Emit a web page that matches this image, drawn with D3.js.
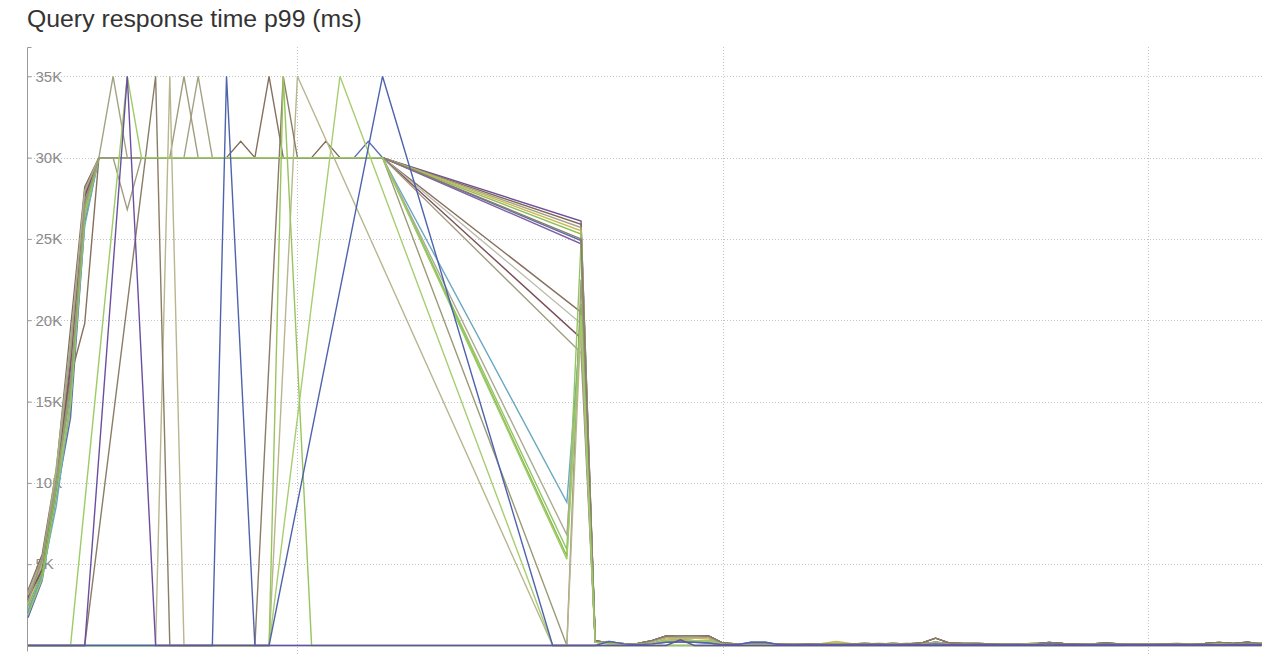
<!DOCTYPE html>
<html>
<head>
<meta charset="utf-8">
<script src="https://cdn.jsdelivr.net/npm/d3@7"></script>
<style>
  body { margin: 0; background: #fff; }
  svg { font-family: "Helvetica Neue", "Liberation Sans", Arial, sans-serif; }
  .grid line { stroke: #c4c4c4; stroke-dasharray: 1,2; shape-rendering: crispEdges; }
  .axis .domain, .axis .tick line { stroke: #9a9a9a; }
  .axis text { fill: #8a8a8a; font-size: 15px; }
  .series { fill: none; stroke-width: 1.4; }
</style>
</head>
<body>
<div id="chart"></div>
<script>
  // p99 per host, seconds, one value per sample step (null = no sample)
  var _ = null;

  var yTicks = [5000, 10000, 15000, 20000, 25000, 30000, 35000];
  var xGridSteps = [19, 49, 79];

  var host01 = [2.8,4.6,10.2,17,27.8, 30,30,30,30,30, 30,30,30,30,30, 30,30,30,30,30, 30,30,30,30,30, 30, _,_,_,_,_, _,_,_,_,_, _,_,_, 26.1,.3,
    .15,.1,.12,.3,.58,.6,.6,.58,.15,.1, .08,.1,.1,.08,.1,.08,.1,.1,.12,.1, .12,.1,.15,.45,.15,.12,.12,.1,.1,.08, .1,.18,.12,.1,.1,.15,.1,.08,.1,.1, .1,.1,.12,.18,.12,.2,.1];
  var host02 = [3.4,5.6,10.8,19.5,28.2, 30,30,30,30,30, 30,30,30,30,30, 31,30,30,30,30, 30,31,30,30,30, 30, _,_,_,_,_, _,_,_,_,_, _,_,_, 25.9,.3,
    .15,.1,.12,.3,.58,.6,.6,.58,.15,.1, .08,.1,.1,.08,.1,.08,.1,.1,.12,.1, .12,.1,.15,.45,.15,.12,.12,.1,.1,.08, .1,.18,.12,.1,.1,.15,.1,.08,.1,.1, .1,.1,.12,.18,.12,.2,.1];
  var host03 = [2.2,4.2,9.8,15.5,26.5, 30,35,30,30,30, 30,30,35,30,30, 30,30,30,30,30, 30,30,30,30,30, 30, _,_,_,_,_, _,_,_,_,_, _,_,_, 25.7,.25,
    .2,.12,.1,.25,.5,.52,.55,.5,.12,.08, .1,.1,.08,.1,.08,.1,.12,.1,.1,.08, .1,.08,.1,.2,.1,.1,.08,.1,.08,.1, .12,.1,.1,.08,.1,.1,.08,.1,.08,.1, .1,.08,.1,.1,.1,.12,.15];
  var host04 = [2.5,5,9.6,14.5,27, 30,30,30,30,30, 30,30,30,30,30, 30,30,30,30,30, 30,30,30,30,30, 30, _,_,_,_,_, _,_,_,_,_, _,_,_, 25.5,.2,
    .1,.08,.08,.15,.4,.45,.45,.4,.1,.06, .06,.06,.05,.06,.08,.12,.25,.12,.06,.05, .05,.06,.05,.08,.05,.05,.06,.05,.05,.06, .05,.06,.05,.05,.06,.05,.05,.06,.05,.05, .06,.05,.05,.06,.05,.06,.05];
  var host05 = [3.2,4.8,11,18.5,27.5, 30,30,30,30,30, 30,30,30,30,30, 30,30,30,30,30, 30,30,30,30,30, 30, _,_,_,_,_, _,_,_,_,_, _,_,_, 25.3,.25,
    .2,.12,.1,.25,.5,.52,.55,.5,.12,.08, .1,.1,.08,.1,.08,.1,.12,.1,.1,.08, .1,.08,.1,.2,.1,.1,.08,.1,.08,.1, .12,.1,.1,.08,.1,.1,.08,.1,.08,.1, .1,.08,.1,.1,.1,.12,.15];
  var host06 = [1.7,4,9.2,14,26, 30,30,30,30,30, 30,30,30,30,30, 30,30,30,30,30, 30,30,30,30,31, 30, _,_,_,_,_, _,_,_,_,_, _,_,_, 24.9,.2,
    .25,.1,.05,.1,.2,.22,.2,.15,.05,.05, .2,.2,.05,.05,.05,.05,.05,.05,.05,.05, .05,.05,.05,.1,.05,.05,.05,.05,.05,.05, .05,.1,.05,.05,.05,.08,.05,.05,.05,.05, .05,.05,.05,.05,.05,.08,.05];
  var host07 = [2,4.4,9.5,16,27.2, 30,30,30,30,30, 30,30,30,30,30, 30,30,30,30,30, 30,30,30,30,30, 30, _,_,_,_,_, _,_,_,_,_, _,_,_, 24.7,.3,
    .1,.1,.08,.12,.3,.32,.3,.28,.08,.05, .05,.06,.05,.06,.05,.05,.08,.05,.06,.05, .08,.05,.06,.1,.05,.06,.05,.05,.06,.05, .08,.06,.05,.05,.06,.08,.05,.05,.06,.05, .05,.06,.05,.08,.06,.08,.05];
  var host08 = [3,5.2,10.5,16.5,19.8, 30,30,30,30,30, 30,30,30,30,30, 30,30,35,30,30, 30,30,30,30,30, 30, _,_,_,_,_, _,_,_,_,_, _,_,_, 20.5,.3,
    .15,.1,.12,.3,.58,.6,.6,.58,.15,.1, .08,.1,.1,.08,.1,.08,.1,.1,.12,.1, .12,.1,.15,.45,.15,.12,.12,.1,.1,.08, .1,.18,.12,.1,.1,.15,.1,.08,.1,.1, .1,.1,.12,.18,.12,.2,.1];
  var host09 = [2.6,4.9,10,15,26.8, 30,30,30,30,30, 30,30,30,30,30, 30,30,30,30,30, 30,30,30,30,30, 30, _,_,_,_,_, _,_,_,_,_, _,_,_, 19.8,.2,
    .1,.1,.08,.12,.3,.32,.3,.28,.08,.05, .05,.06,.05,.06,.05,.05,.08,.05,.06,.05, .08,.05,.06,.1,.05,.06,.05,.05,.06,.05, .08,.06,.05,.05,.06,.08,.05,.05,.06,.05, .05,.06,.05,.08,.06,.08,.05];
  var host10 = [2.9,4.7,10.3,17.5,27.6, 30,30,30,30,30, 30,30,30,30,30, 30,30,30,30,30, 30,30,30,30,30, 30, _,_,_,_,_, _,_,_,_,_, _,_,_, 18.9,.25,
    .12,.1,.1,.28,.55,.57,.58,.55,.12,.08, .1,.08,.1,.1,.08,.1,.08,.1,.1,.12, .1,.12,.1,.2,.12,.1,.1,.08,.1,.1, .12,.15,.1,.1,.08,.12,.1,.1,.08,.1, .12,.1,.1,.15,.1,.18,.12];
  var host11 = [2.1,4.3,8.6,15,25.8, 30,30,30,30,30, 30,30,30,30,30, 30,30,30,30,30, 30,30,30,30,30, 30, _,_,_,_,_, _,_,_,_,_, _,_, 8.8,20,.2,
    .1,.1,.08,.12,.3,.32,.3,.28,.08,.05, .05,.06,.05,.06,.05,.05,.08,.05,.06,.05, .08,.05,.06,.1,.05,.06,.05,.05,.06,.05, .08,.06,.05,.05,.06,.08,.05,.05,.06,.05, .05,.06,.05,.08,.06,.08,.05];
  var host12 = [3.3,5.4,10.6,18,28, 30,30,26.8,30,30, 30,35,30,30,30, 30,30,30,30,30, 30,30,30,30,30, 30, _,_,_,_,_, _,_,_,_,_, _,_,_, 18,.2,
    .2,.12,.1,.25,.5,.52,.55,.5,.12,.08, .1,.1,.08,.1,.08,.1,.12,.1,.1,.08, .1,.08,.1,.2,.1,.1,.08,.1,.08,.1, .12,.1,.1,.08,.1,.1,.08,.1,.08,.1, .1,.08,.1,.1,.1,.12,.15];
  var host13 = [1.9,4.1,9.3,14.8,26.3, 30,30,30,30,30, 30,30,30,30,30, 30,30,30,30,30, 30,30,30,30,30, 30, _,_,_,_,_, _,_,_,_,_, _,_, 5.9,24.8,.25,
    .1,.1,.08,.12,.3,.32,.3,.28,.08,.05, .05,.06,.05,.06,.05,.05,.08,.05,.06,.05, .08,.05,.06,.1,.05,.06,.05,.05,.06,.05, .08,.06,.05,.05,.06,.08,.05,.05,.06,.05, .05,.06,.05,.08,.06,.08,.05];
  var host14 = [2.4,4.5,9.9,15.8,26.9, 30,30,30,30,30, 30,30,30,30,30, 30,30,30,30,30, 30,30,30,30,30, 30, _,_,_,_,_, _,_,_,_,_, _,_, 5.5,21,.2,
    .1,.1,.08,.12,.3,.32,.3,.28,.08,.05, .05,.06,.05,.06,.05,.05,.08,.05,.06,.05, .08,.05,.06,.1,.05,.06,.05,.05,.06,.05, .08,.06,.05,.05,.06,.08,.05,.05,.06,.05, .05,.06,.05,.08,.06,.08,.05];
  var host15 = [3.1,5.1,10.7,18.8,27.9, 30,30,30,30,30, 30,30,30,30,30, 30,30,30,30,30, 30,30,30,30,30, 30, _,_,_,_,_, _,_,_,_,_, _,_, 6.8,19.5,.2,
    .2,.12,.1,.25,.5,.52,.55,.5,.12,.08, .1,.1,.08,.1,.08,.1,.12,.1,.1,.08, .1,.08,.1,.2,.1,.1,.08,.1,.08,.1, .12,.1,.1,.08,.1,.1,.08,.1,.08,.1, .1,.08,.1,.1,.1,.12,.15];
  var host16 = [2.7,5.3,10.1,16.2,27.1, 30,30,30,30,30, 30,30,30,30,30, 30,30,30,30,30, 30,30,30,30,30, 30, _,_,_,_,_, _,_,_,_,_, _,_, 0,22.5,.2,
    .1,.1,.08,.12,.3,.32,.3,.28,.08,.05, .05,.06,.05,.06,.05,.05,.08,.05,.06,.05, .08,.05,.06,.1,.05,.06,.05,.05,.06,.05, .08,.06,.05,.05,.06,.08,.05,.05,.06,.05, .05,.06,.05,.08,.06,.08,.05];

  // hosts that sit at zero (or have sparse samples) during the incident
  var host17 = [0,0,0,0,0, _,_, 35, _, 0, 0,0,0,0,0,0,0,0,0,0, 0,0,0,0,0,0,0,0,0,0, 0,0,0,0,0,0,0,0,0,0, 0,
    0,0,0,0,0,.35,0,0,0,0, 0,0,0,0,0,0,0,0,0,0, 0,0,0,0,0,0,0,0,0,0, 0,0,0,0,0,0,0,0,0,0, 0,0,0,0,0,0,0];
  var host18 = [0,0,0,0,0, 0,0,0,0,0, 0,0,0,0,0, 0,0,0,0,0, 0,0,0,0,0, 0,0,0,0,0, 0,0,0,0,0, 0,0,0,0,0, 0,
    0,0,0,0,0,0,0,0,0,0, 0,0,0,0,0,0,0,0,0,0, 0,0,0,0,0,0,0,0,0,0, 0,0,0,0,0,0,0,.03,.03,.03, .03,.03,.03,.03,.03,.03,.03];
  var host19 = [0,0,0,0, _,_,_, 35, 30,30, 30,30,30,30,30, 30,30,30,30,30, 30,30,30,30,30, 30, _,_,_,_,_, _,_,_,_,_, _,_, 5.3,20.3,.2,
    .1,.1,.08,.12,.3,.32,.3,.28,.08,.05, .05,.06,.05,.06,.05,.05,.08,.05,.06,.05, .08,.05,.06,.1,.05,.06,.05,.05,.06,.05, .08,.06,.05,.05,.06,.08,.05,.05,.06,.05, .05,.06,.05,.08,.06,.08,.05];
  var host20 = [0,0,0,0,0, _,_,_,_, 35, 0,0,0,0,0, 0,0, _, 35, 30, 30,30,30,30,30, 30, _,_,_,_,_, _,_,_,_,_, _,_,_, 25,.25,
    .15,.1,.12,.3,.58,.6,.6,.58,.15,.1, .08,.1,.1,.08,.1,.08,.1,.1,.12,.1, .12,.1,.15,.45,.15,.12,.12,.1,.1,.08, .1,.18,.12,.1,.1,.15,.1,.08,.1,.1, .1,.1,.12,.18,.12,.2,.1];
  var host21 = [0,0,0,0,0, 0,0,0,0,0, 35, 0,0,0,0, 0,0,0, _, 35, _,_,_,_,_, _,_,_,_,_, _,_,_,_,_, _,_, 0,0,20,.2,
    .1,.1,.08,.12,.3,.32,.3,.28,.08,.05, .05,.06,.05,.06,.05,.05,.08,.05,.06,.05, .08,.05,.06,.1,.05,.06,.05,.05,.06,.05, .08,.06,.05,.05,.06,.08,.05,.05,.06,.05, .05,.06,.05,.08,.06,.08,.05];
  var host22 = [0,0,0,0,0, 0,0,0,0,0, 0,0,0,0, 35, _, 0,0, _,_,_,_,_,_,_, 35, _,_,_,_,_, _,_,_,_,_, _, 0,0,0,0,
    .25,.1,.05,.1,.2,.22,.2,.15,.05,.05, .2,.2,.05,.05,.05,.05,.05,.05,.05,.05, .05,.05,.05,.1,.05,.05,.05,.05,.05,.05, .05,.1,.05,.05,.05,.08,.05,.05,.05,.05, .05,.05,.05,.05,.05,.08,.05];
  var host23 = [0,0,0,0,0, 0,0,0,0,0, 0,0,0,0,0, 0,0,0, 35, _, 0,0,0,0,0, 0,0,0,0,0, 0,0,0,0,0, 0,0,0,0,0, 0,
    0,0,0,0,0,0,0,0,0,0, 0,0,0,0,0,0,0,0,0,0, 0,0,0,0,0,0,0,0,0,0, 0,0,0,0,0,0,0,0,0,0, 0,0,0,0,0,0,0];
  var host24 = [0,0,0,0,0, 0,0,0,0,0, 0,0,0,0,0, 0,0,0, _,_,_,_, 35, _,_, _,_,_,_,_, _,_,_,_,_, _,_, 0,0,0,0,
    0,0,0,0,0,0,0,0,0,0, 0,0,0,0,0,0,0,0,0,0, 0,0,0,0,0,0,0,0,0,0, 0,0,0,0,0,0,0,0,0,0, 0,0,0,0,0,0,0];

  var hosts = [host01, host02, host03, host04, host05, host06, host07, host08, host09, host10, host11, host12,
    host13, host14, host15, host16, host18, host21, host20, host19, host24, host23, host22, host17];
  var colors = ["#6d4f9a", "#7e6a57", "#a4a285", "#cbb951", "#8cbf5a", "#5b6db0", "#7f5fa6", "#86705d", "#bdbdaf", "#7b4d57", "#6aa9bf", "#9f9c7e",
    "#93c563", "#87b84f", "#acab93", "#9b9a78", "#72b3c3", "#b8b68f", "#8b7c66", "#9ccc65", "#a8cd70", "#98c45c", "#4f63ad", "#6a4fa0"];

  var width = 1262, height = 660;
  var svg = d3.select("#chart").append("svg").attr("width", width).attr("height", height);

  var x = d3.scaleLinear().domain([0, host01.length - 1]).range([28, 1261.7]);
  var y = d3.scaleLinear().domain([0, 36800]).range([645.5, 47]);

  svg.append("text")
    .attr("x", 27).attr("y", 27)
    .style("font-size", "24.8px")
    .style("fill", "#333")
    .text("Query response time p99 (ms)");

  // grid
  var grid = svg.append("g").attr("class", "grid");
  grid.selectAll(".hl").data(yTicks).enter().append("line")
    .attr("x1", 28).attr("x2", width)
    .attr("y1", function (d) { return Math.round(y(d)) + 0.5; })
    .attr("y2", function (d) { return Math.round(y(d)) + 0.5; });
  grid.selectAll(".vl").data(xGridSteps).enter().append("line")
    .attr("y1", 47).attr("y2", 656)
    .attr("x1", function (d) { return Math.round(x(d)) + 0.5; })
    .attr("x2", function (d) { return Math.round(x(d)) + 0.5; });

  // y axis
  var yAxis = svg.append("g").attr("class", "axis")
    .attr("transform", "translate(27.5,0)")
    .call(d3.axisRight(y).tickValues(yTicks).tickSize(4).tickPadding(4)
      .tickFormat(function (d) { return d / 1000 + "K"; }));
  yAxis.select(".domain").attr("d", "M4," + (y.range()[1] + 0.5) + "H0V" + (y.range()[0] + 6));
  yAxis.selectAll("text").style("font-family", "'Helvetica Neue', 'Liberation Sans', Arial, sans-serif");

  // lines
  var line = d3.line()
    .x(function (p) { return x(p[0]); })
    .y(function (p) { return y(p[1] * 1000); });

  svg.append("g").selectAll("path").data(hosts).enter().append("path")
    .attr("class", "series")
    .attr("stroke", function (d, i) { return colors[i]; })
    .attr("d", function (d) {
      var pts = d.map(function (v, i) { return [i, v]; })
        .filter(function (p) { return p[1] !== null; });
      return line(pts);
    });
</script>
</body>
</html>
